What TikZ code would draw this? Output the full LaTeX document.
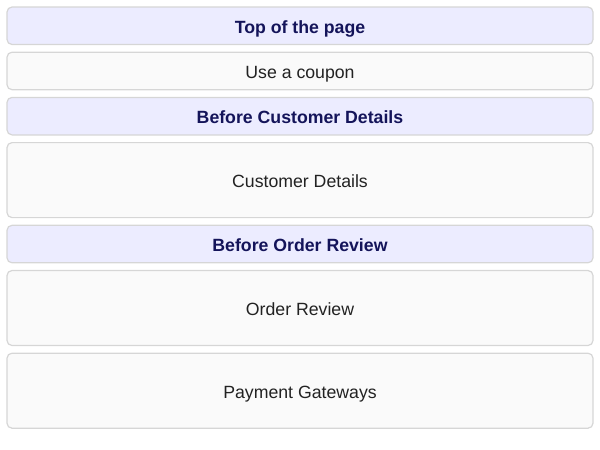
\documentclass[tikz,border=0pt]{standalone}
\usepackage{fontspec}
\setmainfont{Liberation Sans}
\usetikzlibrary{positioning}
\definecolor{hdrfill}{HTML}{ECECFF}
\definecolor{hdrtext}{HTML}{14145A}
\definecolor{panefill}{HTML}{FAFAFA}
\definecolor{paneline}{HTML}{D6D6D6}
\definecolor{panetext}{HTML}{222222}

\begin{document}
\begin{tikzpicture}[
						x=1pt, y=-1pt,
						node distance=6.5pt,
						main/.style = {draw=paneline, line width=1.2pt, rounded corners=5pt,
							minimum width=586pt, inner sep=0pt, text height=14.7pt, text depth=0pt,
							font=\fontsize{17.7}{20}\selectfont},
						hdr/.style = {main, fill=hdrfill, text=hdrtext, minimum height=37.5pt, font=\fontsize{17.7}{20}\selectfont\bfseries},
						pane/.style = {main, fill=panefill, text=panetext, minimum height=37.5pt},
						tall/.style = {pane, minimum height=75pt}
					]
					\useasboundingbox (0,0) rectangle (600,450);
					\node[hdr] (top) at (300,25.75) {Top of the page};
					\node[pane] (coupon) [below=of top] {Use a coupon};
					\node[hdr] (bcd) [below=of coupon] {Before Customer Details};
					\node[tall] (cd) [below=of bcd] {Customer Details};
					\node[hdr] (bor) [below=of cd] {Before Order Review};
					\node[tall] (or) [below=of bor] {Order Review};
					\node[tall] (pg) [below=of or] {Payment Gateways};
				\end{tikzpicture}
\end{document}
